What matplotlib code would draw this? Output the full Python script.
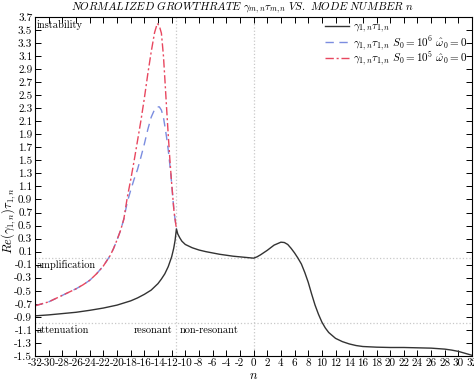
"""
Normalized growth rate vs. mode number n, recreated with matplotlib.
"""
import matplotlib
matplotlib.use("Agg")
import matplotlib.pyplot as plt
import numpy as np

plt.rcParams["font.family"] = ["cmr10", "DejaVu Serif"]
plt.rcParams["mathtext.fontset"] = "cm"
plt.rcParams["axes.unicode_minus"] = False
plt.rcParams["axes.formatter.use_mathtext"] = True

# ── Data ──────────────────────────────────────────────────────────────────────
n_base = [-32, -30, -28, -26, -24, -22, -20, -18, -17, -16, -15, -14.5, -14,
          -13.5, -13, -12.5, -12, -11.7, -11.5, -11.3, -11.1, -10.8, -10.5,
          -10, -9, -8, -7, -6, -5, -4, -3, -2, -1, 0, 0.5, 1, 2, 3, 4, 4.5,
          5, 5.5, 6, 6.5, 7, 7.5, 8, 8.5, 9, 9.5, 10, 10.5, 11, 12, 13, 14,
          15, 16, 18, 20, 22, 24, 26, 28, 29, 30, 31, 32]
g_base = [-0.885, -0.87, -0.85, -0.83, -0.80, -0.765, -0.72, -0.655, -0.61,
          -0.555, -0.49, -0.44, -0.39, -0.32, -0.24, -0.13, 0.02, 0.15, 0.27,
          0.45, 0.37, 0.31, 0.26, 0.21, 0.16, 0.125, 0.10, 0.08, 0.06, 0.045,
          0.03, 0.02, 0.01, 0.0, 0.02, 0.05, 0.12, 0.20, 0.245, 0.24, 0.21,
          0.15, 0.08, 0.0, -0.09, -0.22, -0.37, -0.55, -0.72, -0.86, -0.98,
          -1.07, -1.14, -1.23, -1.28, -1.315, -1.34, -1.355, -1.365, -1.37,
          -1.37, -1.375, -1.38, -1.395, -1.41, -1.43, -1.46, -1.49]

n_res = [-32, -30, -28, -26, -25, -24, -23, -22, -21, -20.5, -20, -19.5, -19,
         -18.5, -18, -17.5, -17, -16.5, -16, -15.5, -15, -14.5, -14.1, -13.8,
         -13.5, -13.2, -13, -12.75, -12.5, -12.25, -12, -11.65, -11.3]
g_s6 = [-0.73, -0.67, -0.57, -0.47, -0.41, -0.34, -0.24, -0.12, 0.04, 0.15,
        0.28, 0.42, 0.60, 0.86, 1.04, 1.21, 1.36, 1.55, 1.75, 1.97, 2.16,
        2.28, 2.32, 2.32, 2.27, 2.16, 2.03, 1.86, 1.66, 1.42, 1.15, 0.71, 0.45]
g_s5 = [-0.73, -0.67, -0.57, -0.47, -0.41, -0.34, -0.24, -0.12, 0.04, 0.15,
        0.28, 0.42, 0.60, 0.93, 1.20, 1.49, 1.80, 2.11, 2.45, 2.82, 3.16,
        3.46, 3.60, 3.56, 3.45, 3.10, 2.76, 2.32, 1.89, 1.50, 1.15, 0.71, 0.45]

n_resonance = -11.3
x_ticks = list(range(-32, 33, 2))
y_ticks = [round(-1.5 + 0.2 * i, 1) for i in range(27)]

# ── Figure ────────────────────────────────────────────────────────────────────
fig = plt.figure(figsize=(4.74, 3.84), dpi=100)
ax = fig.add_axes([0.074, 0.073, 0.922, 0.883])

for xv in (n_resonance, 0):
    ax.axvline(xv, color="#c8c8c8", linestyle=":", linewidth=0.9, zorder=0)
for yv in (0, -1):
    ax.axhline(yv, color="#c8c8c8", linestyle=":", linewidth=0.9, zorder=0)

ax.plot(n_base, g_base, color="#333333", linewidth=1.0,
        label=r"$\gamma_{1,n}\tau_{1,n}$")
ax.plot(n_res, g_s6, color="#7b8de0", linewidth=1.0, linestyle=(0, (6, 4)),
        label=r"$\gamma_{1,n}\tau_{1,n}\ S_0=10^6\ \hat{\omega}_0=0$")
ax.plot(n_res, g_s5, color="#e8475f", linewidth=1.0,
        linestyle=(0, (6, 2, 1.5, 2)),
        label=r"$\gamma_{1,n}\tau_{1,n}\ S_0=10^5\ \hat{\omega}_0=0$")

ax.set_xlim(-32, 32)
ax.set_ylim(-1.5, 3.7)
ax.set_xticks(x_ticks)
ax.set_xticklabels([str(v) for v in x_ticks], fontsize=8)
ax.set_yticks(y_ticks)
ax.set_yticklabels([f"{v:.1f}" for v in y_ticks], fontsize=8)
ax.tick_params(direction="in", top=True, right=True, length=4, width=0.7,
               pad=2)
for sp in ax.spines.values():
    sp.set_linewidth(0.8)

ax.set_xlabel(r"$n$", fontsize=9, labelpad=1)
ax.set_ylabel(r"$Re(\gamma_{1,n})\tau_{1,n}$", fontsize=9)
ax.yaxis.set_label_coords(-0.040, 0.40)
ax.set_title(r"$NORMALIZED\ GROWTHRATE\ \gamma_{m,n}\tau_{m,n}\ VS.\ "
             r"MODE\ NUMBER\ n$", fontsize=8, pad=5, x=0.475)

ax.text(-31.8, 3.66, "instability", fontsize=7.5, va="top")
ax.text(-31.8, -0.03, "amplification", fontsize=7.5, va="top")
ax.text(-31.8, -1.03, "attenuation", fontsize=7.5, va="top")
ax.text(n_resonance - 0.6, -1.03, "resonant", fontsize=7.5, va="top",
        ha="right")
ax.text(n_resonance + 0.5, -1.03, "non-resonant", fontsize=7.5, va="top")

ax.legend(loc="upper right", frameon=False, fontsize=8, handlelength=2.2,
          borderaxespad=0.25, labelspacing=-0.15, handletextpad=0.3,
          borderpad=0.2)

fig.savefig("out.png", dpi=100)
